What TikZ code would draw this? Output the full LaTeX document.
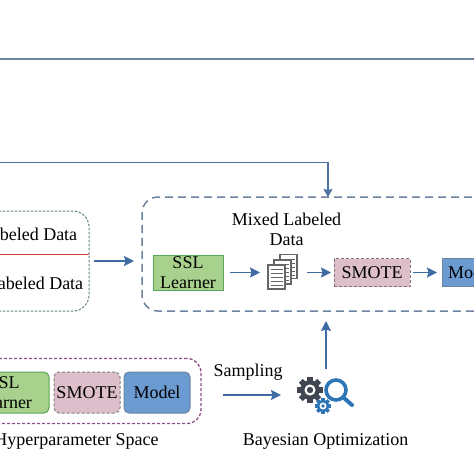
\documentclass[tikz,border=0pt]{standalone}
\usepackage{fontspec}
\setmainfont{Liberation Serif}
\usetikzlibrary{arrows.meta,positioning}
\definecolor{arrowblue}{HTML}{3F6BA3}
\definecolor{framegrey}{HTML}{6D83A0}
\definecolor{sslgreen}{HTML}{A9D18E}
\definecolor{smotepink}{HTML}{DDBFCB}
\definecolor{modelblue}{HTML}{6C9BD2}
\definecolor{cogdark}{HTML}{3F4650}
\definecolor{lensblue}{HTML}{2E75B6}
\definecolor{datagreen}{HTML}{5F8570}
\definecolor{spacepurple}{HTML}{8C4F88}
\definecolor{divred}{HTML}{C8443F}

\begin{document}
\begin{tikzpicture}[
    x=1pt, y=-1pt,
    every node/.style={font=\fontsize{18}{20}\selectfont, outer sep=0pt, inner sep=0pt},
    flatbox/.style={rectangle, draw=#1, line width=1pt, minimum height=35pt, align=center},
    arrow/.style={-{Stealth[length=10pt,width=10pt,inset=1.5pt]}, arrowblue, line width=1.4pt},
    dataframe/.style={rectangle, draw=datagreen, rounded corners=16pt, line width=1pt, dash pattern=on 2.5pt off 1.5pt, minimum width=118pt, minimum height=100pt},
    mixframe/.style={rectangle, draw=framegrey, rounded corners=16pt, line width=1.5pt, dash pattern=on 8pt off 5pt, minimum width=372pt, minimum height=114pt},
    spaceframe/.style={rectangle, draw=spacepurple, rounded corners=14pt, line width=1.3pt, dash pattern=on 3pt off 2pt, minimum width=260pt, minimum height=65pt},
    spacebox/.style={rectangle, rounded corners=5pt, line width=1pt, minimum height=41pt, align=center},
    cogwheel/.pic={
        \foreach \a in {0,45,...,315} \fill[pic actions, rotate=\a] (-2.8,-13) rectangle (2.8,0);
        \fill[pic actions] (0,0) circle (9.8);
        \fill[white] (0,0) circle (5.6);
        \fill[pic actions] (0,0) circle (3.2);
    }
]
\clip (0,0) rectangle (474,474);
\fill[white] (0,0) rectangle (474,474);

% Feedback lines
\coordinate (topleft) at (0,59);
\coordinate (topright) at (474,59);
\coordinate (feedback) at (0,162.5);
\draw[framegrey, line width=1.3pt] (topleft) -- (topright);

% Labeled Data
\node[dataframe] (dataframe) at (30,261) {};
\node at (29,234) (labeled) {Labeled Data};
\node at (27,283) (unlabeled) {Unlabeled Data};
\coordinate (divleft) at (0,254);
\coordinate (divright) at (89,254);
\draw[divred, line width=1pt] (divleft) -- (divright);

% Training pipeline
\node[mixframe] (mixframe) at (328,254) {};
\node[flatbox=gray!70!green, fill=sslgreen, minimum width=70pt] (ssl) at (188,272.5) {SSL\\Learner};
\node[right=44pt of ssl, minimum width=33pt, minimum height=34pt] (docs) {};
\node[flatbox=smotepink!60!black, densely dashed, fill=smotepink, minimum width=76pt, minimum height=28pt, right=34pt of docs] (smote) {SMOTE};
\node[flatbox=framegrey, fill=modelblue, minimum width=59pt, minimum height=28pt, right=32pt of smote] (model) {Model};
\node[above=10pt of docs, xshift=3pt, align=center] (mixed) {Mixed Labeled\\Data};

% Document icon
\begin{scope}[shift={(docs.center)}]
    \foreach \d in {12,6,0} {
        \draw[gray!80!black, fill=white, line width=1.2pt] (-15.5+\d,-7.5-\d*.85) rectangle (1.5+\d,16.5-\d*.85);
        \foreach \l in {-3,1,5,9,13}
            \draw[gray!80!black, line width=1pt] (-13+\d,\l-\d*.85) -- (-1+\d,\l-\d*.85);
    }
\end{scope}

% Hyperparameter Space
\node[spaceframe] (spaceframe) at (71,391) {};
\node[spacebox, draw=gray!70!green, fill=sslgreen, minimum width=90pt] (spacessl) at (4,392.5) {SSL\\Learner};
\node[spacebox, draw=gray, densely dashed, fill=smotepink, minimum width=66pt] (spacesmote) at (87,392.5) {SMOTE};
\node[spacebox, draw=framegrey, fill=modelblue, minimum width=66pt, right=4pt of spacesmote] (spacemodel) {Model};
\node at (76.5,441) (spacename) {Hyperparameter Space};

% Bayesian Optimization
\node[minimum width=58pt, minimum height=36pt] (bayes) at (326,395) {};
\pic[cogdark] at (310,390) {cogwheel};
\pic[lensblue, scale=.62] at (323,406) {cogwheel};
\draw[lensblue, line width=3.6pt] (336,390) circle (10);
\draw[lensblue, line width=4pt, line cap=round] (344,398) -- (352,405);
\node at (325.5,441) (bayesname) {Bayesian Optimization};
\node at (248,372) (sampling) {Sampling};

% Arrows
\draw[arrowblue!70!framegrey, line width=1.4pt, -{Stealth[length=8pt,width=9pt,inset=1pt]}] (feedback) -| (mixframe.north);
\draw[arrow, shorten <=5pt, shorten >=8pt] (dataframe.east) -- (dataframe.east -| mixframe.west);
\draw[arrow, shorten <=7pt, shorten >=7pt] (ssl) -- (docs);
\draw[arrow, shorten <=7pt, shorten >=3pt] (docs) -- (smote);
\draw[arrow, shorten <=3pt, shorten >=5pt] (smote) -- (model);
\draw[arrow, shorten <=22pt, shorten >=16pt] (spaceframe.east |- bayes.west) -- (bayes.west);
\draw[arrow, shorten <=8pt, shorten >=10pt] (bayes.north) -- (bayes.north |- mixframe.south);

\end{tikzpicture}
\end{document}
